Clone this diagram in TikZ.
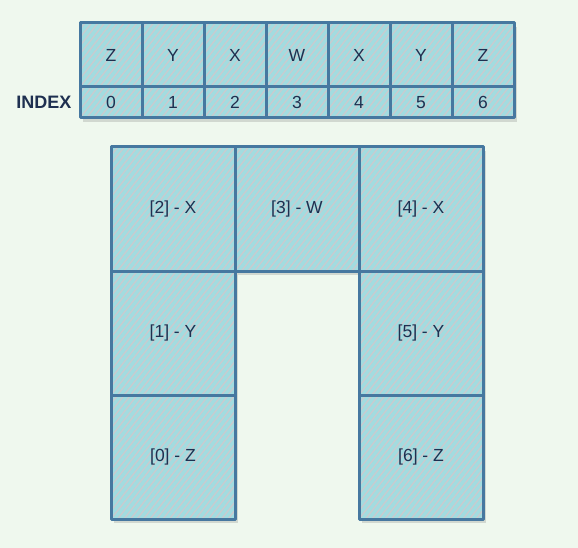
\documentclass[tikz,border=0pt]{standalone}
\usepackage{fontspec}
\setmainfont{Liberation Sans}
\usetikzlibrary{calc,shadows,positioning}

\definecolor{bgmint}{HTML}{EFF8EE}
\definecolor{cellfill}{HTML}{A2DCE0}
\definecolor{cellline}{HTML}{4678A0}
\definecolor{hatchgrey}{HTML}{C8CBCF}
\definecolor{inktext}{HTML}{1E3050}

\begin{document}
\begin{tikzpicture}[x=1pt,y=-1pt,
    hatch/.style={path picture={
      \foreach \k in {-22,...,22}
        \draw [hatchgrey, line width=1.4pt]
          ($(path picture bounding box.south west)+(\k*6.5pt,0pt)$) -- ++(150pt,190pt);}},
    cell/.style={draw=cellline, line width=3pt, line join=round,
      drop shadow={shadow xshift=3pt, shadow yshift=-4pt, opacity=0.18, fill=black!70},
      fill=cellfill, hatch,
      text=inktext, font=\fontsize{17.5}{20}\selectfont, inner sep=0pt},
    topcell/.style={cell, minimum width=62pt, minimum height=64pt},
    idxcell/.style={cell, minimum width=62pt, minimum height=31pt},
    bigcell/.style={cell, minimum width=124pt, minimum height=124pt}]
      \useasboundingbox (0,0) rectangle (578,548);
      \fill [bgmint] (0,0) rectangle (578,548);
%      array on top
      \foreach \i/\lab in {0/Z,1/Y,2/X,3/W,4/X,5/Y,6/Z} {
        \node [topcell] (cell\i) at (111+62*\i,55) {\lab};
        \node [idxcell] (idx\i) at (111+62*\i,102.5) {\i};
      }
      \node [left=7pt of idx0, font=\bfseries\fontsize{18}{20}\selectfont, text=inktext, inner sep=0pt] (indexlab) {INDEX};
%      the U of boxes
      \foreach \n/\lab/\cx/\cy in {2/X/173/209, 3/W/297/209, 4/X/421/209,
                                   1/Y/173/333, 5/Y/421/333,
                                   0/Z/173/457, 6/Z/421/457}
        \node [bigcell] (box\n) at (\cx,\cy) {[\n] - \lab};
    \end{tikzpicture}
\end{document}
